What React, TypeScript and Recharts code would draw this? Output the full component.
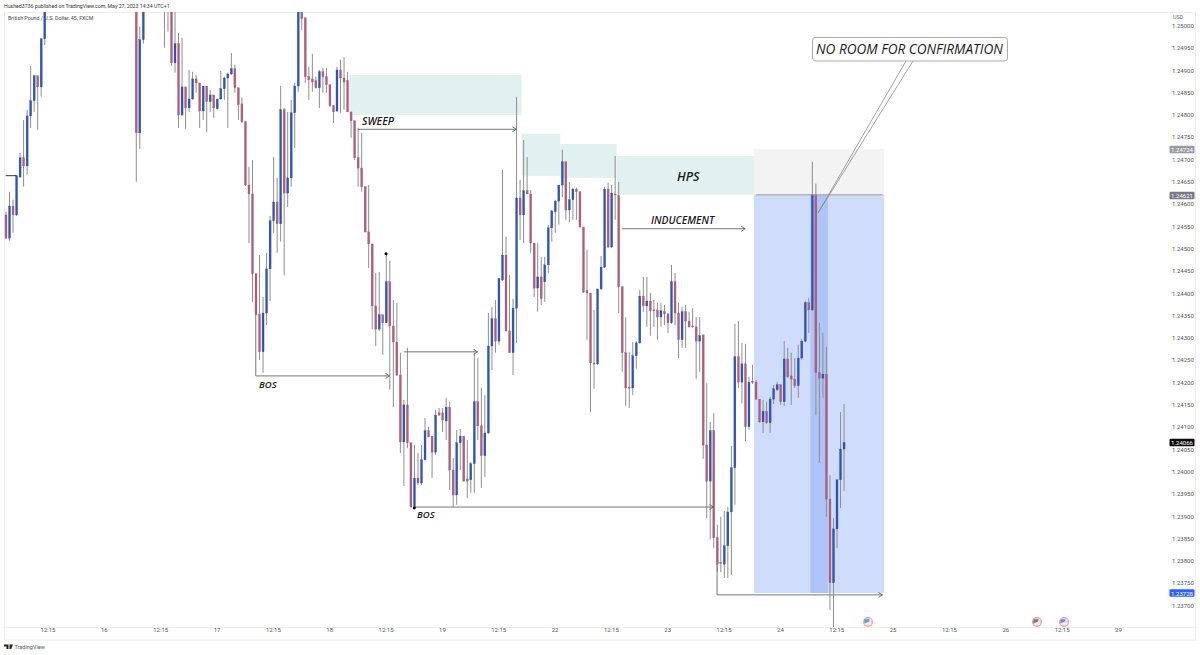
import { Bar, ComposedChart, ReferenceArea, ReferenceDot, ReferenceLine, XAxis, YAxis } from "recharts";

// prices are stored in points (1 point = 0.00001), null = bar is above the visible pane
const offChart = (count: number) => Array(count).fill(null);

const opens = [
  124576, 124524, 124596, 124576, 124661, 124704, 124686, 124798, 124832, 124888, 124863, 124971,
  ...offChart(25),
  125047, 124760, 124969,
  ...offChart(5),
  125070, 125060, 125060, 124917, 124960, 124800, 124863, 124816, 124836, 124881,
  124872, 124809, 124865, 124830, 124845, 124814, 124836, 124859, 124883, 124892,
  124904, 124861, 124825, 124785, 124643, 124623, 124444, 124354, 124269, 124356,
  124455, 124563, 124605, 124556, 124812, 124625, 124659, 124805, 124865, 125047,
  125018, 124886, 124881, 124877, 124861, 124897, 124886, 124868, 124821, 124809,
  124901, 124883, 124877, 124807, 124787, 124704, 124681, 124639, 124538, 124511,
  124372, 124320, 124352, 124334, 124426, 124327, 124291, 124217, 124067, 124150,
  124065, 123919, 123986, 123975, 124027, 124092, 124080, 124044, 124132, 124132,
  124114, 124145, 124004, 123948, 124065, 124080, 123984, 123982, 124018, 124157,
  124103, 124036, 124087, 124282, 124343, 124293, 124430, 124486, 124316, 124267,
  124367, 124614, 124576, 124630, 124623, 124513, 124412, 124437, 124426, 124464,
  124547, 124583, 124607, 124643, 124695, 124587, 124610, 124634, 124628, 124549,
  124406, 124401, 124244, 124242, 124410, 124459, 124634, 124504, 124623, 124619,
  124415, 124267, 124190, 124188, 124260, 124289, 124394, 124372, 124383, 124363,
  124363, 124347, 124359, 124354, 124334, 124426, 124356, 124296, 124359, 124338,
  124327, 124325, 124293, 124307, 124060, 123979, 124092, 123852, 123797, 123793,
  123834, 123910, 124009, 124258, 124201, 124242, 124101, 124203, 124201, 124163,
  124112, 124136, 124110, 124163, 124184, 124195, 124157, 124253, 124215, 124208,
  124193, 124255, 124293, 124379, 124363, 124621, 124222, 124210, 124219, 123939,
  123751, 123872, 123982, 124051,
];

const highs = [
  124583, 124628, 124610, 124664, 124715, 124789, 124812, 124910, 124890, 124888, 124971, 125058,
  ...offChart(25),
  125050, 124998, 125058,
  ...offChart(5),
  125080, 125090, 125070, 125031, 124984, 124973, 124863, 124901, 124897, 124890,
  124872, 124865, 124865, 124856, 124845, 124836, 124899, 124886, 124895, 124939,
  124913, 124861, 124839, 124785, 124684, 124699, 124444, 124486, 124392, 124491,
  124574, 124706, 124659, 124865, 124816, 124807, 124834, 124872, 125058, 125050,
  125018, 124908, 124937, 124886, 124901, 124906, 124906, 124868, 124821, 124908,
  124924, 124930, 124897, 124807, 124787, 124771, 124760, 124639, 124643, 124511,
  124446, 124448, 124352, 124489, 124473, 124385, 124379, 124267, 124161, 124278,
  124065, 124060, 124042, 124060, 124121, 124101, 124080, 124139, 124143, 124143,
  124166, 124157, 124031, 124094, 124096, 124080, 124071, 124022, 124267, 124255,
  124188, 124172, 124356, 124370, 124385, 124435, 124677, 124527, 124441, 124388,
  124841, 124655, 124744, 124706, 124632, 124513, 124513, 124482, 124482, 124554,
  124587, 124610, 124643, 124722, 124695, 124650, 124637, 124637, 124628, 124549,
  124498, 124401, 124363, 124410, 124484, 124639, 124648, 124643, 124708, 124650,
  124415, 124347, 124269, 124291, 124293, 124408, 124437, 124437, 124401, 124385,
  124379, 124379, 124374, 124356, 124464, 124446, 124379, 124370, 124374, 124359,
  124367, 124347, 124347, 124307, 124199, 124112, 124132, 123881, 123899, 123912,
  123921, 124058, 124332, 124338, 124289, 124287, 124213, 124240, 124206, 124163,
  124161, 124157, 124168, 124195, 124201, 124195, 124293, 124278, 124267, 124255,
  124285, 124298, 124383, 124390, 124695, 124646, 124334, 124311, 124280, 123993,
  123896, 123982, 124134, 124152,
];

const lows = [
  124522, 124518, 124536, 124574, 124659, 124639, 124666, 124771, 124807, 124767, 124841, 124957,
  ...offChart(25),
  124650, 124724, 124960,
  ...offChart(5),
  124951, 124987, 124910, 124895, 124771, 124798, 124769, 124807, 124834, 124850,
  124771, 124789, 124762, 124807, 124794, 124812, 124834, 124834, 124771, 124890,
  124850, 124789, 124782, 124641, 124513, 124381, 124352, 124251, 124222, 124329,
  124383, 124536, 124491, 124516, 124441, 124594, 124639, 124726, 124852, 124991,
  124872, 124834, 124852, 124859, 124816, 124850, 124850, 124818, 124782, 124807,
  124805, 124812, 124807, 124749, 124699, 124639, 124628, 124536, 124457, 124320,
  124282, 124316, 124262, 124334, 124184, 124145, 124215, 124042, 123968, 124053,
  123921, 123919, 123970, 123970, 124025, 124078, 123986, 124038, 124127, 124089,
  124071, 123959, 123921, 123926, 124004, 123979, 123941, 123953, 123953, 124071,
  123964, 123988, 124085, 124228, 124267, 124285, 124428, 124314, 124267, 124217,
  124289, 124520, 124513, 124623, 124491, 124392, 124359, 124374, 124381, 124446,
  124516, 124536, 124554, 124616, 124565, 124560, 124565, 124565, 124547, 124401,
  124296, 124134, 124186, 124240, 124408, 124457, 124502, 124502, 124565, 124356,
  124224, 124148, 124143, 124172, 124231, 124287, 124359, 124325, 124305, 124325,
  124296, 124325, 124329, 124311, 124332, 124329, 124255, 124278, 124278, 124323,
  124323, 124208, 124224, 124029, 123896, 123849, 123829, 123775, 123775, 123762,
  123762, 123769, 123926, 124188, 124154, 124069, 124094, 124197, 124161, 124110,
  124087, 124107, 124087, 124152, 124181, 124150, 124148, 124210, 124150, 124188,
  124166, 124251, 124291, 124311, 124361, 124127, 124020, 124166, 123899, 123690,
  123645, 123829, 123919, 123957,
];

const closes = [
  124524, 124596, 124576, 124664, 124704, 124686, 124798, 124832, 124888, 124863, 124971, 125047,
  ...offChart(25),
  124760, 124969, 125047,
  ...offChart(5),
  125060, 125080, 124917, 124960, 124800, 124863, 124816, 124836, 124881, 124872,
  124809, 124865, 124830, 124845, 124816, 124836, 124859, 124883, 124892, 124904,
  124861, 124823, 124785, 124643, 124623, 124444, 124352, 124269, 124356, 124455,
  124563, 124605, 124556, 124812, 124625, 124659, 124805, 124865, 125047, 125016,
  124886, 124879, 124874, 124861, 124897, 124886, 124868, 124821, 124807, 124901,
  124883, 124874, 124807, 124787, 124704, 124681, 124639, 124538, 124511, 124372,
  124320, 124352, 124334, 124426, 124327, 124291, 124217, 124067, 124150, 124065,
  123921, 123986, 123975, 124027, 124092, 124078, 124044, 124127, 124127, 124116,
  124145, 124004, 123948, 124065, 124080, 123979, 123979, 124018, 124157, 124103,
  124036, 124087, 124282, 124343, 124293, 124433, 124486, 124316, 124267, 124367,
  124614, 124576, 124630, 124623, 124513, 124412, 124437, 124388, 124464, 124547,
  124585, 124607, 124643, 124695, 124587, 124610, 124634, 124628, 124549, 124403,
  124401, 124244, 124242, 124410, 124459, 124634, 124504, 124625, 124621, 124415,
  124267, 124188, 124188, 124260, 124289, 124394, 124372, 124383, 124361, 124361,
  124347, 124361, 124354, 124334, 124426, 124356, 124296, 124359, 124338, 124325,
  124325, 124293, 124305, 124060, 123979, 124092, 123852, 123793, 123795, 123834,
  123910, 124009, 124258, 124201, 124242, 124101, 124201, 124201, 124163, 124112,
  124136, 124110, 124163, 124186, 124195, 124157, 124253, 124213, 124208, 124193,
  124255, 124293, 124379, 124363, 124621, 124222, 124210, 124219, 123939, 123751,
  123872, 123982, 124051, 124066,
];

const BAR_SLOTS = 330;

const priceTicks = [
  125000, 124950, 124900, 124850, 124800, 124750, 124700, 124650, 124600, 124550, 124500, 124450, 124400, 124350,
  124300, 124250, 124200, 124150, 124100, 124050, 124000, 123950, 123900, 123850, 123800, 123750, 123700,
];

const timeTickBars = [12, 28, 44, 60, 76, 92, 108, 124, 140, 156, 172, 188, 204, 220, 236, 252, 268, 284, 300, 316];
const timeTickLabels = ["12:15", "16", "12:15", "17", "12:15", "18", "12:15", "19", "12:15", "22", "12:15", "23", "12:15", "24", "12:15", "25", "12:15", "26", "12:15", "29"];

// [first bar, last bar, top price, bottom price]
const supplyZones = [
  [98, 146, 124890, 124800],
  [147, 157, 124758, 124664],
  [158, 173, 124735, 124659],
  [174, 212, 124708, 124621],
];

// [bar, price] polylines
const arrowLines = [
  [[71, 124215], [109, 124215]],
  [[113, 124269], [134, 124269]],
  [[116, 123921], [201, 123921]],
  [[100, 124768], [145, 124768]],
  [[175, 124545], [210, 124545]],
  [[202, 123724], [249, 123724]],
];
const plainLines = [
  [[71, 124352], [71, 124215]],
  [[202, 123793], [202, 123724]],
  [[0, 124664], [3, 124664]],
  [[213, 124621], [249, 124621]],
];
const markerDots = [
  [108, 124489],
  [116, 123919],
];

const priceTags = [
  { value: "1.24724", y: 149.5, fill: "#9b9ba8" },
  { value: "1.24621", y: 195.5, fill: "#787886" },
  { value: "1.24066", y: 442.5, fill: "#0c0c0c" },
  { value: "1.23728", y: 593, fill: "#2962ff" },
];
const eventFlags = [868, 1037, 1064];

const candles = Array.from({ length: BAR_SLOTS }, (_, bar) => ({
  bar,
  open: opens[bar] ?? null,
  close: closes[bar] ?? null,
  range: lows[bar] == null ? null : [lows[bar], highs[bar]],
}));

function Candle(props: any) {
  const { x, y, width, height, payload } = props;
  if (!payload || !payload.range) return null;
  const [low, high] = payload.range;
  const perPoint = height / Math.max(high - low, 1);
  const up = payload.close >= payload.open;
  const bodyTop = y + (high - Math.max(payload.open, payload.close)) * perPoint;
  const bodyHeight = Math.max(Math.abs(payload.close - payload.open) * perPoint, 1);
  const cx = x + width / 2;
  return (
    <g>
      <line x1={cx} x2={cx} y1={y} y2={y + height} stroke="#8e8e8e" strokeWidth={1} />
      <rect x={cx - 1} y={bodyTop} width={2} height={bodyHeight} fill={up ? "#2f55b5" : "#ae5f7c"} stroke={up ? "#2a4aa0" : "#a05470"} strokeWidth={0.3} />
    </g>
  );
}

const NOTE_FONT = "'Open Sans', sans-serif";

function NoteText({ x, y, size, children, weight }: any) {
  return (
    <text x={x} y={y} fontFamily={NOTE_FONT} fontStyle="italic" fontSize={size} fontWeight={weight ?? 600} fill="#1a1a1a" dominantBaseline="central">
      {children}
    </text>
  );
}

export default function App() {
  return (
    <div style={{ position: "absolute", left: 0, top: 0, width: 1200, height: 655, background: "#fff" }}>
      <ComposedChart
        width={1200}
        height={655}
        data={candles}
        margin={{ top: 12, right: 4, bottom: 15, left: 4 }}
        barCategoryGap={0}
        barGap={0}
      >
        <defs>
          <marker id="arrowHead" markerWidth="6" markerHeight="6" refX="5" refY="3" orient="auto" markerUnits="userSpaceOnUse">
            <path d="M1,0.5 L5,3 L1,5.5" fill="none" stroke="#555" strokeWidth="0.8" />
          </marker>
        </defs>
        <rect x={4.5} y={12.5} width={1191} height={627.5} fill="none" stroke="#eeeeee" />
        <line x1={4} x2={1196} y1={627.5} y2={627.5} stroke="#eeeeee" />

        <XAxis
          dataKey="bar"
          ticks={timeTickBars}
          interval={0}
          height={13}
          tickLine={false}
          axisLine={false}
          tickSize={0}
          tickMargin={1}
          tickFormatter={(bar: number) => timeTickLabels[timeTickBars.indexOf(bar)]}
          tick={{ fontSize: 6, fill: "#555", fontFamily: "Roboto" }}
        />
        <YAxis
          orientation="right"
          width={30}
          type="number"
          domain={[123652, 125031]}
          allowDataOverflow
          ticks={priceTicks}
          interval={0}
          tickLine={false}
          axisLine={false}
          tickSize={0}
          tickMargin={6}
          tickFormatter={(v: number) => (v / 100000).toFixed(5)}
          tick={{ fontSize: 6, fill: "#555", fontFamily: "Roboto" }}
        />

        {supplyZones.map(([first, last, top, bottom]) => (
          <ReferenceArea key={first} x1={first} x2={last} y1={top} y2={bottom} fill="#e1f1f0" fillOpacity={1} stroke="none" />
        ))}
        <ReferenceArea x1={213} x2={249} y1={124724} y2={124621} fill="#f3f3f3" fillOpacity={1} stroke="none" />
        <ReferenceArea x1={213} x2={249} y1={124621} y2={123728} fill="#d0dcfb" fillOpacity={1} stroke="none" />
        <ReferenceArea x1={229} x2={233} y1={124621} y2={123728} fill="#aec4f8" fillOpacity={1} stroke="none" />

        {plainLines.map((points, n) => (
          <ReferenceLine
            key={n}
            segment={points.map(([bar, price]) => ({ x: bar, y: price }))}
            stroke={n === 2 ? "#333" : n === 3 ? "#9a9a9a" : "#777"}
            strokeWidth={1}
          />
        ))}
        {arrowLines.map((points, n) => (
          <ReferenceLine
            key={n}
            segment={points.map(([bar, price]) => ({ x: bar, y: price }))}
            stroke="#777"
            strokeWidth={1}
            markerEnd="url(#arrowHead)"
          />
        ))}

        <Bar dataKey="range" shape={Candle} isAnimationActive={false} />

        {markerDots.map(([bar, price]) => (
          <ReferenceDot key={bar} x={bar} y={price} r={1.5} fill="#000" stroke="none" />
        ))}

        {priceTags.map((tag) => (
          <g key={tag.value}>
            <rect x={1169.5} y={tag.y - 3.8} width={25} height={7.6} rx={1} fill={tag.fill} />
            <text x={1182} y={tag.y} textAnchor="middle" dominantBaseline="central" fontSize={6} fontFamily="Roboto" fill="#fff">
              {tag.value}
            </text>
          </g>
        ))}
        <text x={1173} y={17} fontSize={5.5} fontFamily="Roboto" fill="#666" dominantBaseline="central">USD</text>

        {eventFlags.map((x) => (
          <g key={x}>
            <circle cx={x} cy={622} r={5} fill={x === 1037 ? "#dba0a8" : "#f49ca2"} />
            <rect x={x - 3.6} y={618.6} width={7.2} height={6.8} rx={2} fill="#f9e6e6" />
            <path d={`M${x - 3.6},619.2 h5 v2 l-5,2.2 Z`} fill={x === 1037 ? "#8f6c7c" : "#4f9de0"} />
          </g>
        ))}

        <text x={4} y={6} fontSize={5.2} fontFamily="Roboto" fill="#333" dominantBaseline="central">
          Hushed3736 published on TradingView.com, May 27, 2023 14:34 UTC+1
        </text>
        <text x={8} y={18} fontSize={5.3} fontFamily="Roboto" fill="#444" dominantBaseline="central">
          British Pound / U.S. Dollar, 45, FXCM
        </text>
        <path d="M4,644.5 h4.5 v4.5 h-2 v-2.6 h-2.5 Z M9.5,644.5 h3.5 l-1.8,4.5 h-1.7 Z" fill="#222" />
        <text x={14.5} y={647} fontSize={5.5} fontFamily="Roboto" fill="#555" dominantBaseline="central">TradingView</text>
      </ComposedChart>

      {/* drawing tools sit above the whole pane */}
      <svg width={1200} height={655} style={{ position: "absolute", left: 0, top: 0, pointerEvents: "none" }}>
        <NoteText x={259} y={384} size={9.5}>BOS</NoteText>
        <NoteText x={417} y={514} size={9.5}>BOS</NoteText>
        <NoteText x={362} y={121} size={10.5}>SWEEP</NoteText>
        <NoteText x={651} y={220} size={10.3}>INDUCEMENT</NoteText>
        <NoteText x={677} y={176} size={12.5}>HPS</NoteText>

        <path d="M906,61 L818,213 L913,61" fill="none" stroke="#8a8a8a" strokeWidth={0.8} />
        <rect x={812.5} y={37.5} width={195} height={23.5} rx={3} fill="#fff" stroke="#aaa" />
        <NoteText x={816} y={48.5} size={13.6} weight={400}>NO ROOM FOR CONFIRMATION</NoteText>
      </svg>
    </div>
  );
}
